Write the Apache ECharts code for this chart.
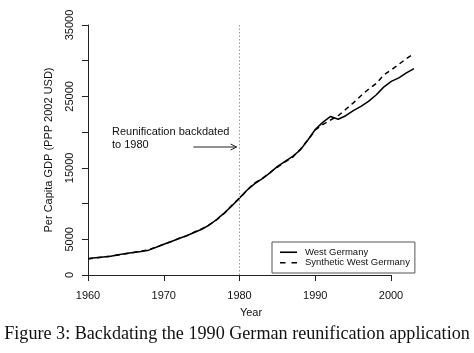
<!DOCTYPE html>
<html><head><meta charset="utf-8">
<script src="https://cdn.jsdelivr.net/npm/echarts@6/dist/echarts.min.js"></script>
<style>html,body{margin:0;padding:0;background:#fff}#c{width:474px;height:353px}</style>
</head><body><div id="c"></div>
<script>
const years = [1960,1961,1962,1963,1964,1965,1966,1967,1968,1969,1970,1971,1972,1973,1974,1975,1976,1977,1978,1979,1980,1981,1982,1983,1984,1985,1986,1987,1988,1989,1990,1991,1992,1993,1994,1995,1996,1997,1998,1999,2000,2001,2002,2003];
const westGermany = [2300,2420,2530,2640,2830,3000,3150,3300,3480,3880,4300,4700,5100,5500,5950,6400,7000,7800,8700,9700,10800,11900,12800,13500,14300,15200,15900,16600,17500,18900,20400,21400,22200,21800,22300,23000,23600,24300,25200,26300,27100,27600,28300,28900];
const syntheticWestGermany = [2250,2380,2500,2620,2800,2980,3150,3330,3550,3900,4320,4680,5120,5480,6000,6450,7050,7750,8650,9800,10750,11900,12900,13500,14350,15100,15850,16500,17600,18900,20300,21100,21700,22300,23200,24100,25100,26000,26800,28000,28700,29500,30300,31000];
const yTickLabels = {0:'0',5000:'5000',15000:'15000',25000:'25000',35000:'35000'};
const xTickLabels = ['1960','1970','1980','1990','2000'];
const seriesNames = ['West Germany','Synthetic West Germany'];
const annotationText = 'Reunification backdated\nto 1980';
const annotationArrow = {fromYear:1973.9, toYear:1979.6, value:17920};
const reunificationYear = 1980;
const caption = 'Figure 3: Backdating the 1990 German reunification application';

const sans = '"Liberation Sans", Arial, sans-serif';
const serif = '"Liberation Serif", "Times New Roman", serif';
const axisColor = '#222';

const ctx = document.createElement('canvas').getContext('2d');
ctx.font = '100px ' + serif;
const capSize = 100 * 466 / ctx.measureText(caption).width;

const chart = echarts.init(document.getElementById('c'), null, {renderer:'canvas'});
const option = {
  animation:false,
  backgroundColor:'#fff',
  grid:[
    {left:88, right:60, top:25, bottom:78, containLabel:false},
    {left:88, width:303, top:25, bottom:78, containLabel:false}
  ],
  xAxis:[
    {type:'value', gridIndex:0, min:1960, max:2003, show:true,
     axisLine:{show:false}, axisTick:{show:false}, axisLabel:{show:false}, splitLine:{show:false},
     name:'Year', nameLocation:'middle', nameGap:32,
     nameTextStyle:{fontFamily:sans, fontSize:11, color:'#111'}},
    {type:'value', gridIndex:1, min:1960, max:2000, interval:10,
     axisLine:{show:true, lineStyle:{color:axisColor, width:1}},
     axisTick:{show:true, length:6, lineStyle:{color:axisColor}},
     axisLabel:{fontFamily:sans, fontSize:11, color:'#111', margin:15,
       formatter:v => xTickLabels.includes(String(v)) ? String(v) : ''},
     splitLine:{show:false}}
  ],
  yAxis:[
    {type:'value', gridIndex:0, min:0, max:35000, interval:5000,
     axisLine:{show:true, lineStyle:{color:axisColor, width:1}},
     axisTick:{show:true, length:6, lineStyle:{color:axisColor}},
     axisLabel:{fontFamily:sans, fontSize:11, color:'#111', rotate:90, margin:13,
       formatter:v => (yTickLabels[v] !== undefined ? yTickLabels[v] : '')},
     splitLine:{show:false},
     name:'Per Capita GDP (PPP 2002 USD)', nameLocation:'middle', nameGap:34, nameRotate:90,
     nameTextStyle:{fontFamily:sans, fontSize:11, color:'#111'}},
    {type:'value', gridIndex:1, min:0, max:35000, show:false}
  ],
  legend:{
    left:272, top:242, orient:'vertical', itemGap:0, itemWidth:17, itemHeight:1.6,
    padding:[5,5,5,8], borderColor:'#555', borderWidth:1, backgroundColor:'#fff',
    textStyle:{fontFamily:sans, fontSize:9.5, color:'#111', lineHeight:10.5, padding:[0,0,0,3]},
    data:[
      {name:seriesNames[0], icon:'path://M0,0H17V1.6H0Z'},
      {name:seriesNames[1], icon:'path://M0,0H5.5V1.6H0Z M11.5,0H17V1.6H11.5Z'}
    ]
  },
  series:[
    {name:seriesNames[0], type:'line', xAxisIndex:0, yAxisIndex:0, symbol:'none',
     data: years.map((y,i)=>[y, westGermany[i]]),
     lineStyle:{color:'#000', width:1.5, type:'solid'}, itemStyle:{color:'#000'},
     markLine:{silent:true, symbol:['none','none'], label:{show:false},
       lineStyle:{color:'#999', type:[1.5,2], width:1},
       data:[{xAxis:reunificationYear}]}},
    {name:seriesNames[1], type:'line', xAxisIndex:0, yAxisIndex:0, symbol:'none',
     data: years.map((y,i)=>[y, syntheticWestGermany[i]]),
     lineStyle:{color:'#000', width:1.5, type:[5,4]}, itemStyle:{color:'#000'}}
  ]
};
chart.setOption(option);

const a0 = chart.convertToPixel({gridIndex:0}, [annotationArrow.fromYear, annotationArrow.value]);
const a1 = chart.convertToPixel({gridIndex:0}, [annotationArrow.toYear, annotationArrow.value]);
chart.setOption({
  graphic:[
    {type:'text', left:112, top:125, z:10,
     style:{text:annotationText, font:'11px ' + sans, fill:'#111', lineHeight:13}},
    {type:'line', z:10, shape:{x1:a0[0], y1:a0[1], x2:a1[0], y2:a1[1]}, style:{stroke:'#222', lineWidth:1}},
    {type:'polyline', z:10, shape:{points:[[a1[0]-6,a1[1]-3],[a1[0],a1[1]],[a1[0]-6,a1[1]+3]]}, style:{stroke:'#222', lineWidth:1, fill:null}},
    {type:'text', left:'center', top:333 - capSize*0.6 + 3, z:10,
     style:{text:caption, font: capSize.toFixed(2) + 'px ' + serif, fill:'#111'}}
  ]
});
</script></body></html>
